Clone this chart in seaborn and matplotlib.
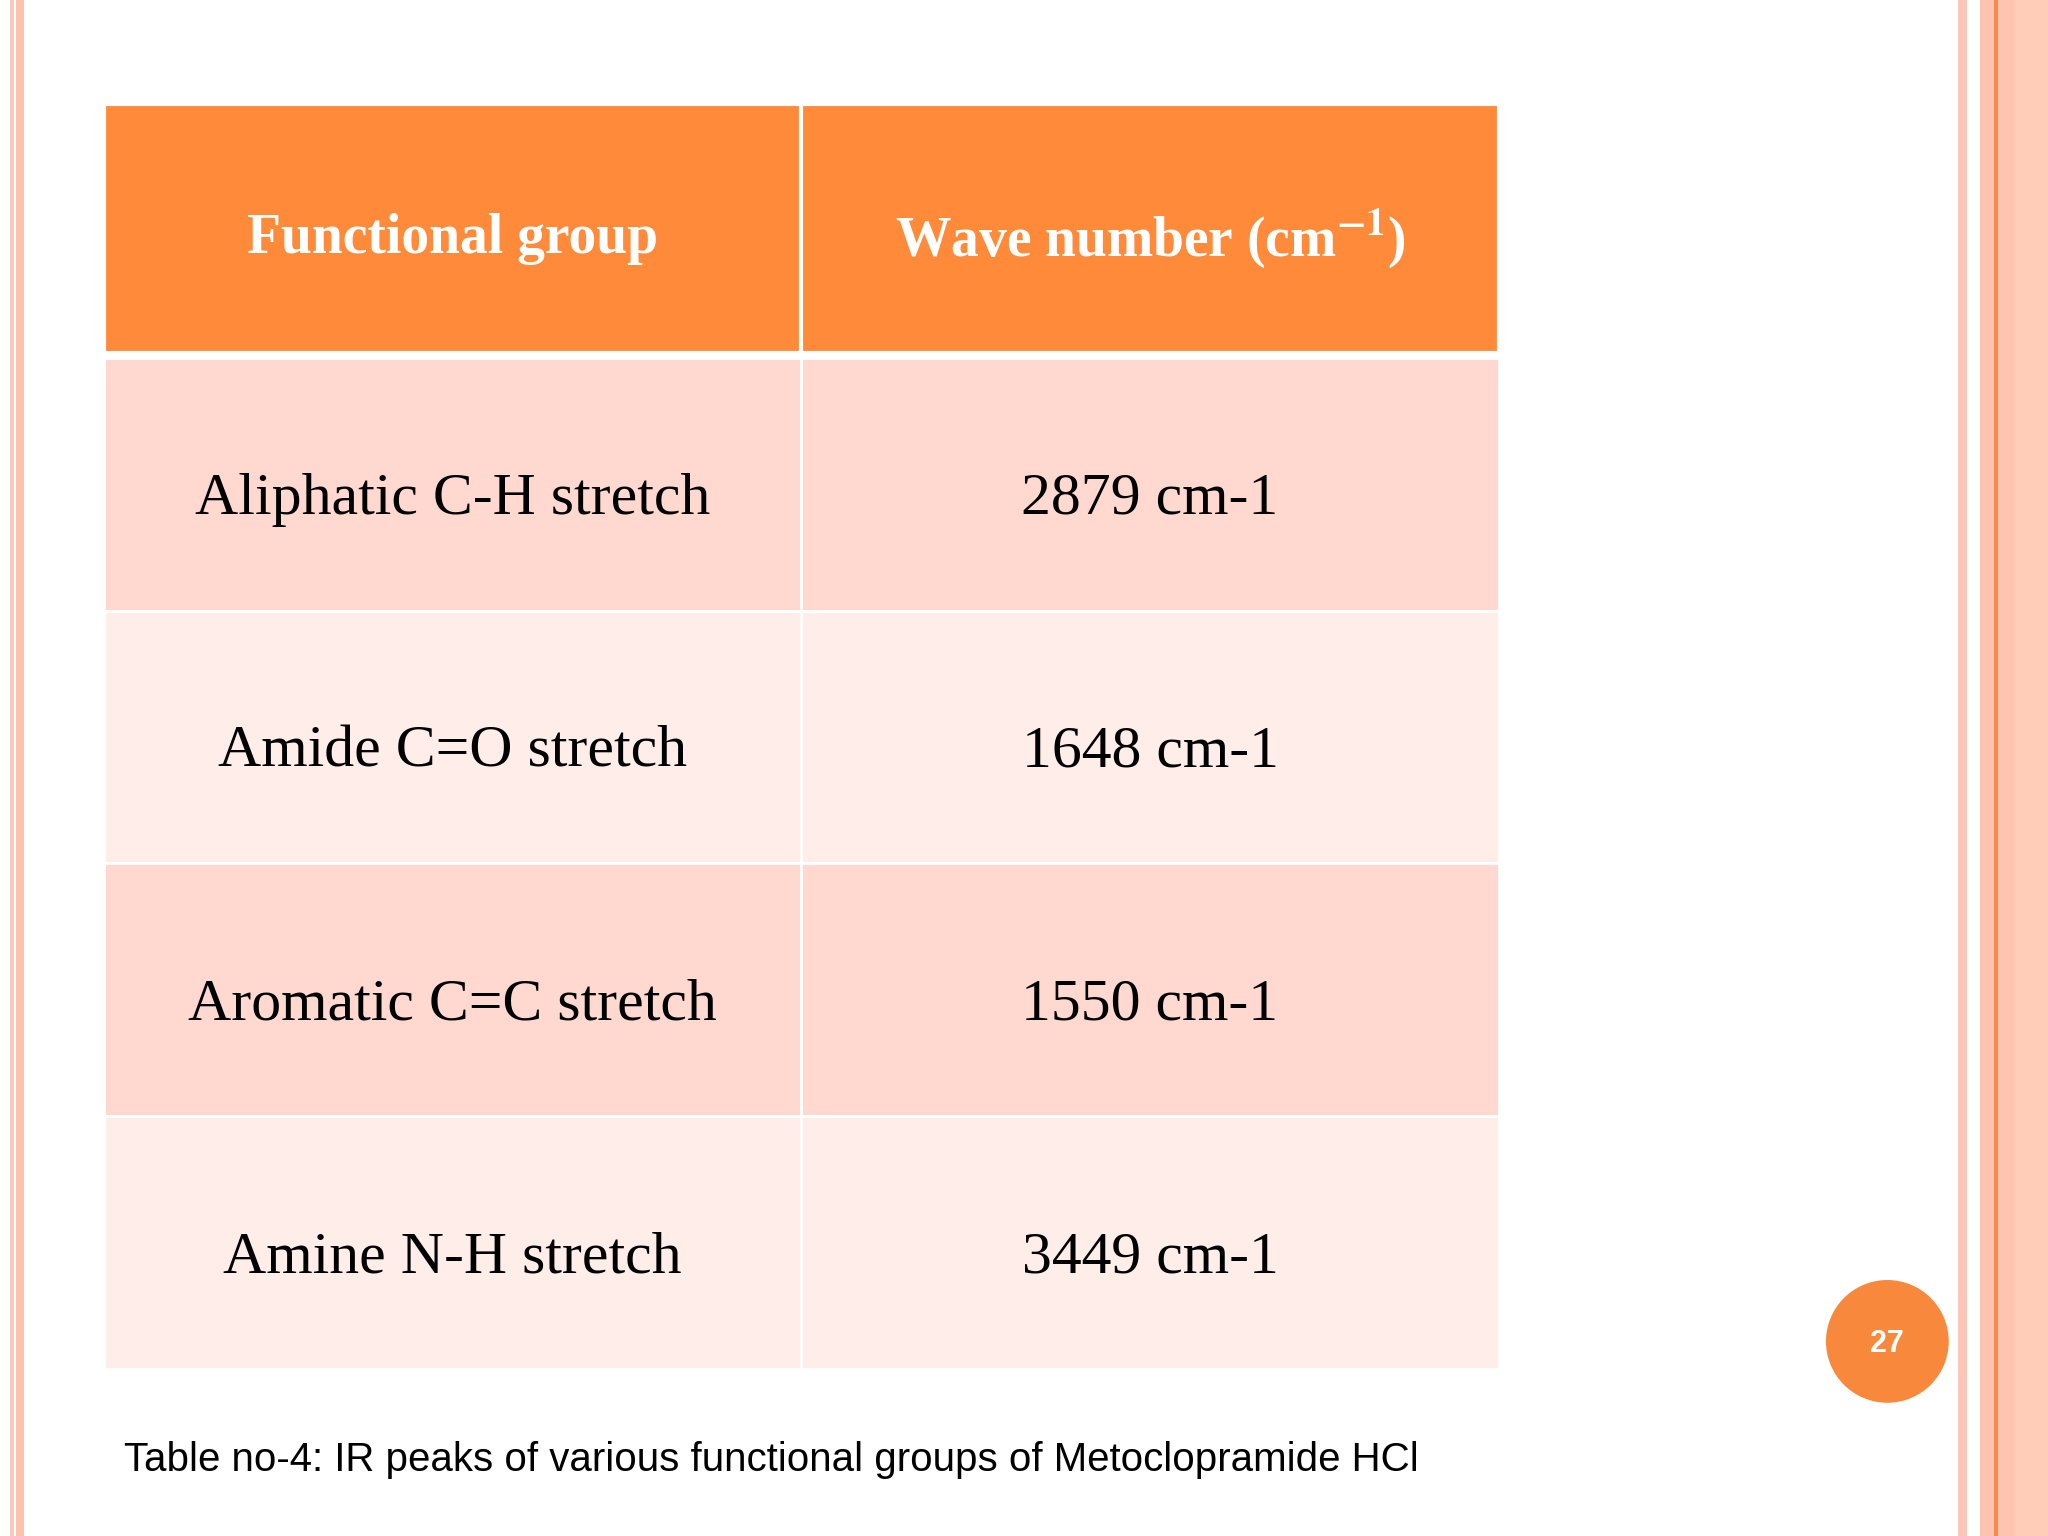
import matplotlib
matplotlib.use("Agg")
import matplotlib.pyplot as plt
import seaborn as sns
from matplotlib.patches import Rectangle, Circle

sns.set_theme(style="white")
plt.rcParams['mathtext.fontset'] = 'stix'

headers = ["Functional group", r"Wave number (cm$\mathbf{^{-1}}$)"]
groups = ["Aliphatic C-H stretch", "Amide C=O stretch", "Aromatic C=C stretch", "Amine N-H stretch"]
wavenumbers = [2879, 1648, 1550, 3449]
caption = "Table no-4: IR peaks of various functional groups of Metoclopramide HCl"
page = "27"

W, H = 1568, 1176
fig = plt.figure(figsize=(20.48, 15.36), dpi=100)
ax = fig.add_axes([0, 0, 1, 1])
ax.set_xlim(0, W); ax.set_ylim(H, 0); ax.axis("off")
fig.patch.set_facecolor("white")

# border stripes
for x0, x1, c in [(7.5, 11, "#F9C9BC"), (12.5, 18.5, "#FFC0AC"),
                  (1499, 1506, "#FCC7B8"), (1516, 1527, "#FFC4B0"), (1527, 1529.5, "#F58A4A"),
                  (1529.5, 1542, "#FFC4B0"), (1542, 1568, "#FFCDB8")]:
    ax.add_patch(Rectangle((x0, 0), x1 - x0, H, color=c, lw=0))

tx0, tx1, tsplit = 80, 1148, 613
ty0, hh, rh = 80, 190, 193.5
ax.add_patch(Rectangle((tx0, ty0), tx1 - tx0, hh, facecolor="#FF8A3A", edgecolor="white", lw=3))
ax.plot([tsplit, tsplit], [ty0, ty0 + hh], color="white", lw=3)
for i, h in enumerate(headers):
    cx = (tx0 + tsplit) / 2 if i == 0 else (tsplit + tx1) / 2
    ax.text(cx, ty0 + hh / 2 + 8, h, ha="center", va="center", color="white",
            fontsize=40, fontweight="bold", family="Liberation Serif")
for r, (g, w) in enumerate(zip(groups, wavenumbers)):
    y = ty0 + hh + 4 + r * rh
    col = "#FFD9CF" if r % 2 == 0 else "#FEEDE9"
    ax.add_patch(Rectangle((tx0, y), tx1 - tx0, rh, facecolor=col, edgecolor="white", lw=2))
    ax.plot([tsplit, tsplit], [y, y + rh], color="white", lw=2)
    ax.text((tx0 + tsplit) / 2, y + rh / 2 + 12, g, ha="center", va="center",
            color="black", fontsize=43, family="Liberation Serif")
    ax.text((tsplit + tx1) / 2, y + rh / 2 + 12, f"{w} cm-1", ha="center", va="center",
            color="black", fontsize=43, family="Liberation Serif")

ax.add_patch(Circle((1445, 1027), 47, color="#F8893C", lw=0))
ax.text(1445, 1029, page, ha="center", va="center", color="white", fontsize=22,
        fontweight="bold", family="Liberation Sans")
ax.text(95, 1118, caption, ha="left", va="center", color="black", fontsize=29,
        family="Liberation Sans")

fig.savefig("out.png", dpi=100)
